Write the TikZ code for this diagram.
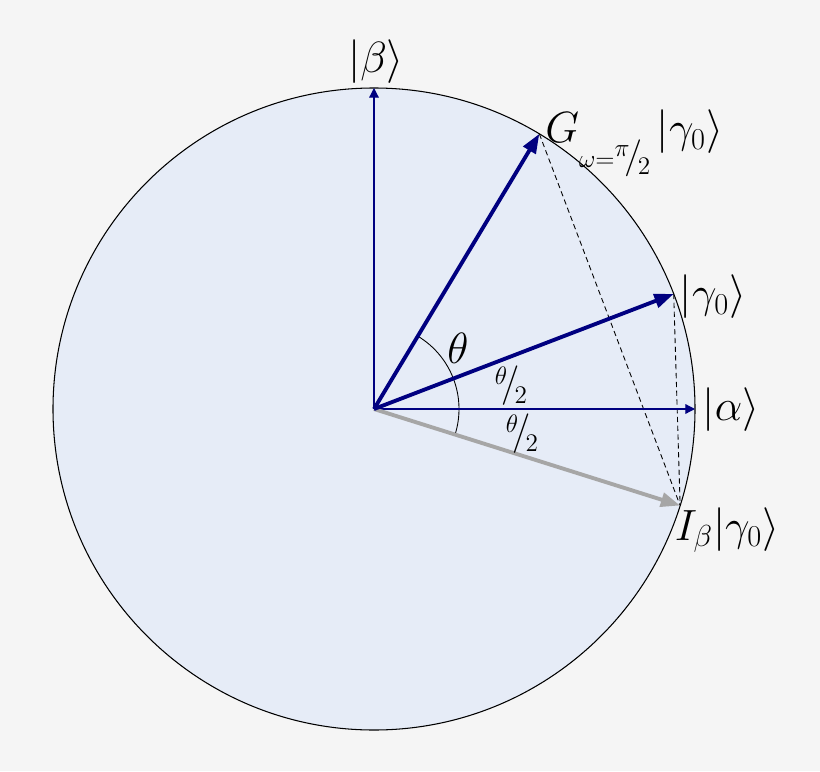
\documentclass[tikz,border=0pt]{standalone}
\usepackage{amsmath}
\usetikzlibrary{arrows.meta}
\definecolor{bloch}{RGB}{230,236,247}
\definecolor{paper}{RGB}{245,245,245}
\definecolor{navy}{RGB}{0,0,128}
\definecolor{greyarrow}{RGB}{166,166,166}
\newcommand{\kt}[1]{$\lvert#1\rangle$}
\newcommand{\halffrac}[2]{\raisebox{0.42em}{$#1$}\kern-0.22em\scalebox{1.5}{/}\kern-0.18em\raisebox{-0.3em}{$#2$}}
\begin{document}
\begin{tikzpicture}[x=0.02cm,y=0.02cm,font=\fontsize{25}{30}\selectfont,
  axis/.style={navy,line width=0.7pt,-{Triangle[length=5.5pt,width=5.5pt]}},
  state/.style={navy,line width=2.2pt,-{Triangle[length=11pt,width=8pt]}},
  small/.style={font=\fontsize{15}{18}\selectfont}]

% 背景与圆
\fill[paper] (-374,-362) rectangle (446,409);
\coordinate (O) at (0,0);
\draw[fill=bloch,line width=0.6pt] (O) circle(321);

% 圆上的点
\coordinate (b) at (90:321);
\coordinate (a) at (0:321);
\coordinate (g0) at (21:321);
\coordinate (G) at (59:321);
\coordinate (I) at (-17.5:321);

% 虚线
\draw[dashed,dash pattern=on 3pt off 2pt,line width=0.5pt] (G) -- (I) (g0) -- (I);

% 角度
\draw[line width=0.5pt] (-17.5:85) arc[start angle = -17.5, end angle = 59, radius = 85];

% 坐标轴与态矢量
\foreach \tip in {a,b}{
  \draw[axis] (O) -- (\tip);
}
\draw[greyarrow,line width=2.2pt,-{Triangle[length=11pt,width=8pt]}] (O) -- (I);
\foreach \tip in {g0,G}{
  \draw[state] (O) -- (\tip);
}

% 标记
\node[inner sep=0pt] (kb) at (2,347) {\kt{\beta}};
\node[inner sep=0pt] (ka) at (357,-1) {\kt{\alpha}};
\node[inner sep=0pt] (kg) at (339,112) {\kt{\gamma_0}};
\node[inner sep=0pt] (kI) at (353,-121) {$I_\beta$\kt{\gamma_0}};
\node[anchor=base west,inner sep=0pt] (kG) at (171,266) {$G$\raisebox{-0.55em}{\fontsize{14}{17}\selectfont$\omega{=}$\halffrac{\pi}{2}}\kern0.15em\kt{\gamma_0}};
\node[inner sep=0pt] (th) at (84,61) {$\theta$};
\node[small,inner sep=0pt] (th1) at (137,23) {\halffrac{\theta}{2}};
\node[small,inner sep=0pt] (th2) at (148,-25) {\halffrac{\theta}{2}};
\end{tikzpicture}
\end{document}
